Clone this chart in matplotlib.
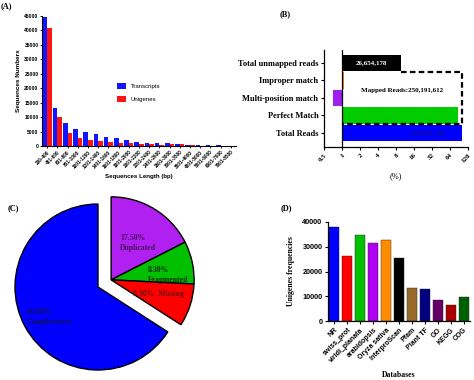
import numpy as np
import matplotlib
matplotlib.use('Agg')
import matplotlib.pyplot as plt

SERIF = 'Liberation Serif'
SANS = 'Liberation Sans'

# (A) sequence length distribution
length_bins = ['200-400', '401-600', '601-800', '801-1000', '1001-1200', '1201-1400',
               '1401-1600', '1601-1800', '1801-2000', '2001-2200', '2201-2400',
               '2401-2600', '2601-3000', '3001-3500', '3501-4000', '4001-5000',
               '5001-6000', '6001-7000', '7001-8500']
transcripts = [44500, 13300, 7900, 6000, 5000, 4200, 3250, 2700, 2100, 1550,
               1200, 900, 1000, 700, 400, 300, 250, 200, 100]
unigenes = [41000, 10000, 4400, 2900, 2100, 1700, 1400, 1200, 1000, 800,
            700, 500, 600, 550, 250, 150, 120, 100, 50]

# (B) read mapping (%)
read_cats = ['Total Reads', 'Perfect Match', 'Multi-position match',
             'Improper match', 'Total unmapped reads']
read_pct = [100, 88.6, 0.707, 1.1, 9.63]
read_colors = ['#0000ff', '#00cc00', '#a020f0', '#ff8000', 'black']
total_reads = '276,845,790'
mapped_reads = '250,191,612'
unmapped_reads = '26,654,178'
pct_ticks = [0.5, 1, 2, 4, 8, 16, 32, 64, 128]

# (C) BUSCO
busco_names = ['Duplicated', 'Fragmented', 'Missing', 'Completeness']
busco_pct = [17.5, 8.3, 8.3, 65.9]
busco_colors = ['#b020f0', '#00c000', '#ff0000', '#0000ff']
busco_text = ['#4a1060', '#0a2a0a', '#701010', '#101060']

# (D) annotation databases
db_names = ['NR', 'swiss_prot', 'viridi_planata', 'arabidopsis', 'Oryza sativa',
            'InterproScan', 'Pfam', 'Plant TF', 'GO', 'KEGG', 'COG']
db_counts = [37900, 26400, 34700, 31400, 32800, 25400, 13200, 12900, 8500, 6600, 9600]
db_colors = ['#0000ff', '#ff0000', '#00c000', '#b000f0', '#ff8c00', '#000000',
             '#9a6a2a', '#000080', '#660066', '#aa0000', '#006000']

W, H = 474, 380
fig = plt.figure(figsize=(W / 100, H / 100), dpi=100)


def px_axes(l, t, r, b):
    return fig.add_axes([l / W, 1 - b / H, (r - l) / W, (b - t) / H])


# ---------- (A)
axA = px_axes(42, 16, 236, 146)
x = np.arange(len(length_bins))
axA.bar(x - 0.45, transcripts, 0.45, align='edge', color='#1414ff', label='Transcripts')
axA.bar(x, unigenes, 0.45, align='edge', color='#ff1414', label='Unigenes')
axA.set_xlim(-0.5, len(length_bins) - 0.5)
axA.set_ylim(0, 45000)
axA.set_yticks(range(0, 45001, 5000))
axA.set_xticks(x)
axA.set_xticklabels(length_bins, rotation=45, ha='right', rotation_mode='anchor',
                    fontsize=3.4, fontweight='bold', family=SANS)
for t in axA.get_yticklabels():
    t.set_fontsize(3.6)
    t.set_fontweight('bold')
    t.set_family(SANS)
axA.tick_params(length=1.5, width=0.6, pad=1)
for s in ['top', 'right']:
    axA.spines[s].set_visible(False)
for s in ['left', 'bottom']:
    axA.spines[s].set_linewidth(0.8)
axA.set_ylabel('Sequences Numbers', fontsize=4.6, fontweight='bold', family=SANS, labelpad=2)
axA.set_xlabel('Sequences Length (bp)', fontsize=4.4, fontweight='bold', family=SANS, labelpad=3)
axA.legend(loc='center left', bbox_to_anchor=(0.36, 0.41), frameon=False,
           prop={'family': SANS, 'size': 4.3}, handlelength=1.5, handleheight=1.0,
           labelspacing=1.2, handletextpad=0.8)
fig.text(1 / W, 1 - 6 / H, '(A)', fontsize=6, fontweight='bold', family=SERIF, va='center')

# ---------- (B)
axB = px_axes(324, 50, 468, 147)
yb = np.arange(len(read_cats))
axB.set_xscale('log', base=2)
axB.barh(yb, np.array(read_pct) - 1, left=1, height=0.95, color=read_colors)
axB.axvline(1, color='black', lw=0.9)
axB.set_xlim(pct_ticks[0], pct_ticks[-1])
axB.set_ylim(-0.8, len(read_cats) - 0.26)
axB.set_xticks(pct_ticks)
axB.set_xticklabels([f'{v:g}' for v in pct_ticks], rotation=45, ha='right',
                    rotation_mode='anchor', fontsize=5, fontweight='bold', family=SERIF)
axB.minorticks_off()
axB.set_yticks(yb)
axB.set_yticklabels(read_cats, fontsize=6, fontweight='bold', family=SERIF)
axB.tick_params(length=2.5, width=0.8, pad=1.5)
for s in ['top', 'right']:
    axB.spines[s].set_visible(False)
for s in ['left', 'bottom']:
    axB.spines[s].set_linewidth(0.9)
axB.set_xlabel('(%)', fontsize=6, family=SERIF, labelpad=6)
# dashed box around mapped reads
axB.plot([read_pct[4], read_pct[0], read_pct[0], 1], [3.5, 3.5, 0.5, 0.5],
         ls=(0, (2.5, 1.5)), lw=1.6, color='black')
axB.text(np.sqrt(read_pct[4]), 4, unmapped_reads, color='white', fontsize=5,
         fontweight='bold', family=SERIF, ha='center', va='center')
axB.text(10, 2.45, 'Mapped Reads:' + mapped_reads, fontsize=5, fontweight='bold',
         family=SERIF, ha='center', va='center')
axB.text(27, 0, total_reads, color='#101080', fontsize=5, fontweight='bold',
         family=SERIF, ha='center', va='center')
fig.text(280 / W, 1 - 14 / H, '(B)', fontsize=6, fontweight='bold', family=SERIF, va='center')

# ---------- (C)
axC = px_axes(0, 190, 200, 380)
wedges, _ = axC.pie(busco_pct, colors=busco_colors, startangle=90, counterclock=False,
                    wedgeprops=dict(edgecolor='black', linewidth=1.0))
# pull the three minor classes out together
ang = np.deg2rad(90 - 3.6 * sum(busco_pct[:3]) / 2)
off = 0.18
for w in wedges[:3]:
    w.set_center((off * np.cos(ang), off * np.sin(ang)))
axC.set_aspect('auto')
axC.set_xlim(-98 / 83, 102 / 83)
axC.set_ylim(-93 / 83, 97 / 83)
txt_pos = [(0.265, 0.53), (0.60, 0.145), (0.42, -0.084), (-0.855, -0.36)]
for (tx, ty), name, v, c in zip(txt_pos, busco_names, busco_pct, busco_text):
    s = f'{v:.2f}%  {name}' if name == 'Missing' else f'{v:.2f}%\n{name}'
    axC.text(tx, ty, s, color=c, fontsize=5.6, fontweight='bold', family=SERIF,
             ha='left', va='center', linespacing=1.3)
fig.text(8 / W, 1 - 208 / H, '(C)', fontsize=6, fontweight='bold', family=SERIF, va='center')

# ---------- (D)
axD = px_axes(328, 222, 470, 321)
xd = np.arange(len(db_names))
axD.bar(xd, db_counts, 0.78, color=db_colors, edgecolor='#202020', linewidth=0.3)
axD.set_xlim(-0.5, len(db_names) - 0.5)
axD.set_ylim(0, 40000)
axD.set_yticks(range(0, 40001, 10000))
axD.set_xticks(xd)
axD.set_xticklabels(db_names, rotation=45, ha='right', rotation_mode='anchor',
                    fontsize=5, fontweight='bold', family=SANS)
for t in axD.get_yticklabels():
    t.set_fontsize(5.2)
    t.set_fontweight('bold')
    t.set_family(SANS)
axD.tick_params(length=2.5, width=0.8, pad=1.5)
for s in ['top', 'right']:
    axD.spines[s].set_visible(False)
for s in ['left', 'bottom']:
    axD.spines[s].set_linewidth(0.9)
axD.set_ylabel('Unigenes frequencies', fontsize=5.6, fontweight='bold', family=SERIF, labelpad=5)
axD.set_xlabel('Databases', fontsize=5.6, fontweight='bold', family=SERIF, labelpad=5)
fig.text(281 / W, 1 - 208 / H, '(D)', fontsize=6, fontweight='bold', family=SERIF, va='center')

fig.savefig('out.png', dpi=100)
